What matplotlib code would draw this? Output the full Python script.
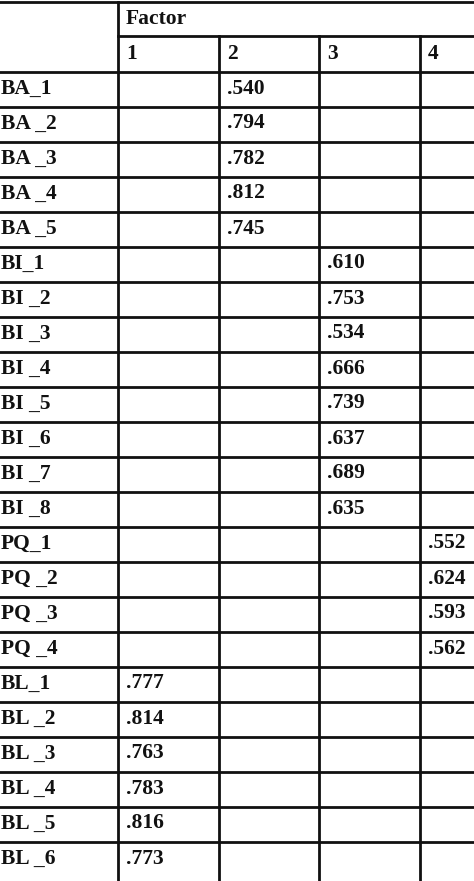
import matplotlib.pyplot as plt

items = ['BA_1', 'BA _2', 'BA _3', 'BA _4', 'BA _5',
         'BI_1', 'BI _2', 'BI _3', 'BI _4', 'BI _5', 'BI _6', 'BI _7', 'BI _8',
         'PQ_1', 'PQ _2', 'PQ _3', 'PQ _4',
         'BL_1', 'BL _2', 'BL _3', 'BL _4', 'BL _5', 'BL _6']
factors = ['1', '2', '3', '4']
factor1 = [''] * 17 + ['.777', '.814', '.763', '.783', '.816', '.773']
factor2 = ['.540', '.794', '.782', '.812', '.745'] + [''] * 18
factor3 = [''] * 5 + ['.610', '.753', '.534', '.666', '.739', '.637', '.689', '.635'] + [''] * 10
factor4 = [''] * 13 + ['.552', '.624', '.593', '.562'] + [''] * 6
columns = [factor1, factor2, factor3, factor4]

W, H = 474, 881
fig = plt.figure(figsize=(W / 100, H / 100), dpi=100)
ax = fig.add_axes([0, 0, 1, 1])
ax.set_xlim(0, W)
ax.set_ylim(H, 0)
ax.axis('off')

col_x = [118, 219, 319, 420, 520]
top, head1, head2, row_h = 2, 36, 72, 35
lw = 2
font = dict(family='Liberation Serif', weight='bold', fontsize=15.5, va='center', ha='left', color='#111111')

# grid
ax.plot([0, W], [top, top], color='#111111', lw=lw)
ax.plot([col_x[0], W], [head1, head1], color='#111111', lw=lw)
n = len(items)
for i in range(n):
    y = head2 + i * row_h
    ax.plot([0, W], [y, y], color='#111111', lw=lw)
ax.plot([col_x[0], col_x[0]], [top, H], color='#111111', lw=lw)
for x in col_x[1:4]:
    ax.plot([x, x], [head1, H], color='#111111', lw=lw)

# header
ax.text(col_x[0] + 8, (top + head1) / 2, 'Factor', **font)
for j, f in enumerate(factors):
    ax.text(col_x[j] + 8, (head1 + head2) / 2, f, **font)

# body
for i, name in enumerate(items):
    yc = head2 + i * row_h + row_h / 2 - 1
    ax.text(1, yc, name, **font)
    for j, col in enumerate(columns):
        if col[i]:
            ax.text(col_x[j] + 8, yc, col[i], **font)

fig.savefig('out.png', dpi=100)
